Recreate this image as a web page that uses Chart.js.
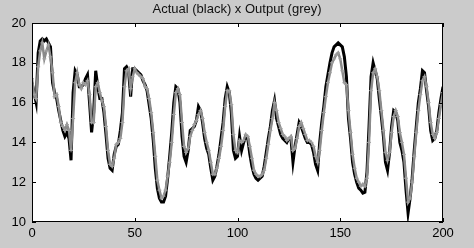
<!DOCTYPE html>
<html>
<head>
<meta charset="utf-8">
<script src="https://cdn.jsdelivr.net/npm/chart.js@4"></script>
<style>
  html, body { margin: 0; padding: 0; background: #cbcbcb; }
  canvas { display: block; }
</style>
</head>
<body>
<canvas id="graph" width="474" height="248"></canvas>
<script>
// valeurs (pas de 1, de 0 à 200)
const actual = [
  17.0, 16.5, 16.0, 18.5, 19.1, 19.2, 19.1, 19.2, 19.0, 18.8,
  17.0, 16.5, 16.2, 15.6, 15.1, 14.6, 14.3, 14.5, 14.2, 13.1,
  16.5, 17.6, 17.4, 16.8, 16.8, 16.9, 17.2, 17.4, 16.0, 14.5,
  15.5, 17.6, 16.8, 16.2, 16.2, 15.5, 14.4, 13.2, 12.7, 12.6,
  13.4, 13.8, 13.9, 14.6, 15.5, 17.7, 17.8, 17.6, 16.3, 17.7,
  17.7, 17.6, 17.5, 17.4, 17.1, 16.9, 16.6, 15.9, 15.2, 14.1,
  12.7, 11.7, 11.2, 11.0, 11.0, 11.3, 12.2, 13.3, 14.5, 16.0,
  16.8, 16.7, 16.0, 14.3, 13.3, 13.0, 13.6, 14.6, 14.7, 14.8,
  15.1, 15.8, 15.6, 15.0, 14.2, 13.7, 13.4, 12.7, 12.1, 12.3,
  12.8, 13.4, 14.2, 15.0, 16.2, 16.8, 16.5, 15.5, 13.6, 13.2,
  13.3, 14.3, 13.6, 14.0, 14.3, 14.2, 13.4, 12.8, 12.4, 12.2,
  12.1, 12.2, 12.3, 12.8, 13.5, 14.2, 14.8, 15.6, 16.1, 15.2,
  14.8, 14.4, 14.2, 14.1, 14.0, 14.2, 14.2, 13.0, 13.8, 14.4,
  15.0, 14.8, 14.5, 14.2, 14.0, 14.0, 13.9, 13.5, 12.9, 12.6,
  14.0, 15.0, 15.8, 16.8, 17.4, 18.0, 18.5, 18.8, 18.9, 19.0,
  18.9, 18.8, 18.3, 17.3, 15.2, 14.2, 13.0, 12.4, 12.0, 11.7,
  11.6, 11.45, 11.5, 12.5, 14.8, 17.3, 18.0, 17.6, 17.2, 16.2,
  15.3, 14.3, 13.0, 12.6, 13.5, 14.8, 15.6, 15.5, 15.1, 14.0,
  13.6, 13.0, 11.6, 10.45, 11.2, 12.2, 13.6, 14.8, 16.0, 16.7,
  17.6, 17.5, 16.6, 15.8, 14.6, 14.1, 14.2, 14.6, 15.5, 16.2,
  16.8
];

const output = [
  17.2, 16.4, 16.2, 17.8, 18.6, 19.0, 18.2, 18.6, 18.9, 18.3,
  17.5, 16.3, 16.4, 15.8, 15.0, 14.8, 14.6, 14.9, 14.6, 13.6,
  15.2, 17.0, 17.5, 16.9, 16.7, 17.0, 16.9, 17.1, 16.4, 15.0,
  15.0, 16.8, 17.0, 16.5, 16.1, 15.8, 14.8, 13.6, 12.9, 12.8,
  13.2, 13.9, 14.0, 14.2, 15.0, 16.8, 17.6, 17.7, 16.7, 17.3,
  17.7, 17.5, 17.4, 17.3, 17.2, 16.8, 16.7, 16.2, 15.5, 14.5,
  13.3, 12.1, 11.6, 11.2, 11.3, 11.6, 12.3, 13.0, 14.0, 15.4,
  16.5, 16.7, 16.4, 15.0, 13.8, 13.5, 13.7, 14.3, 14.6, 14.9,
  15.1, 15.4, 15.6, 15.2, 14.5, 14.0, 13.6, 13.0, 12.4, 12.4,
  12.7, 13.2, 13.8, 14.6, 15.8, 16.6, 16.6, 15.9, 14.4, 13.6,
  13.5, 14.1, 14.0, 14.1, 14.4, 14.3, 13.8, 13.2, 12.6, 12.4,
  12.3, 12.3, 12.4, 12.6, 13.2, 13.9, 14.6, 15.2, 16.0, 15.6,
  15.0, 14.7, 14.4, 14.3, 14.1, 14.2, 14.3, 13.6, 13.7, 14.2,
  14.8, 15.0, 14.7, 14.4, 14.1, 14.1, 14.0, 13.8, 13.3, 13.0,
  13.6, 14.6, 15.5, 16.3, 17.0, 17.5, 18.0, 18.2, 18.4, 18.5,
  18.2, 17.6, 17.0, 16.9, 15.6, 14.5, 13.4, 12.7, 12.2, 12.0,
  11.8, 11.9, 11.8, 12.2, 14.0, 16.6, 17.5, 17.7, 17.3, 16.6,
  15.6, 14.6, 13.5, 13.1, 13.5, 14.5, 15.3, 15.6, 15.3, 14.5,
  14.0, 13.4, 12.2, 11.0, 11.2, 12.0, 13.3, 14.5, 15.6, 16.4,
  17.1, 17.3, 16.8, 16.0, 15.0, 14.4, 14.2, 14.5, 15.2, 15.9,
  16.5
];

const xTicks = [0, 50, 100, 150, 200];
const yTicks = [10, 12, 14, 16, 18, 20];

const toPoints = arr => arr.map((v, i) => ({ x: i, y: v }));

// fond blanc + cadre + graduations vers l'intérieur (style matlab)
const cadre = {
  id: 'cadre',
  beforeDraw(chart) {
    const { ctx, chartArea: a } = chart;
    ctx.save();
    ctx.fillStyle = '#fff';
    ctx.fillRect(a.left, a.top, a.right - a.left, a.bottom - a.top);
    ctx.restore();
  },
  afterDraw(chart) {
    const { ctx, chartArea: a, scales } = chart;
    ctx.save();
    ctx.strokeStyle = '#000';
    ctx.lineWidth = 1;
    ctx.strokeRect(a.left + 0.5, a.top + 0.5, a.right - a.left - 1, a.bottom - a.top - 1);
    ctx.beginPath();
    xTicks.forEach(t => {
      const x = Math.round(scales.x.getPixelForValue(t)) + 0.5;
      ctx.moveTo(x, a.bottom); ctx.lineTo(x, a.bottom - 4);
      ctx.moveTo(x, a.top); ctx.lineTo(x, a.top + 4);
    });
    yTicks.forEach(t => {
      const y = Math.round(scales.y.getPixelForValue(t)) + 0.5;
      ctx.moveTo(a.left, y); ctx.lineTo(a.left + 4, y);
      ctx.moveTo(a.right, y); ctx.lineTo(a.right - 4, y);
    });
    ctx.stroke();
    ctx.restore();
  }
};

const police = { family: '"Liberation Sans", Arial, sans-serif', size: 13 };

new Chart(document.getElementById('graph').getContext('2d'), {
  type: 'line',
  data: {
    datasets: [
      {
        label: 'Actual',
        data: toPoints(actual),
        borderColor: '#000',
        borderWidth: 3,
        pointRadius: 0,
        tension: 0,
        order: 1
      },
      {
        label: 'Output',
        data: toPoints(output),
        borderColor: '#8a8a8a',
        borderWidth: 2.5,
        pointStyle: 'cross',
        pointRadius: 2,
        pointBorderColor: '#a0a0a0',
        pointBorderWidth: 1,
        tension: 0,
        order: 0
      }
    ]
  },
  options: {
    responsive: false,
    animation: false,
    layout: { padding: 0 },
    plugins: {
      legend: { display: false },
      tooltip: { enabled: false },
      title: {
        display: true,
        text: 'Actual (black) x Output (grey)',
        color: '#111',
        font: { ...police, weight: 'normal' },
        padding: { top: 2, bottom: 5.4 }
      }
    },
    scales: {
      x: {
        type: 'linear',
        min: 0,
        max: 200,
        afterFit: s => { s.height = 26; },
        afterBuildTicks: s => { s.ticks = xTicks.map(v => ({ value: v })); },
        grid: { display: false, drawTicks: false },
        border: { display: false },
        ticks: { color: '#000', font: police, padding: 4, maxRotation: 0 }
      },
      y: {
        min: 10,
        max: 20,
        afterFit: s => { s.width = 32; },
        afterBuildTicks: s => { s.ticks = yTicks.map(v => ({ value: v })); },
        grid: { display: false, drawTicks: false },
        border: { display: false },
        ticks: { color: '#000', font: police, padding: 6 }
      },
      // axe vide à droite pour garder la marge
      y2: {
        position: 'right',
        min: 10,
        max: 20,
        afterFit: s => { s.width = 31; },
        grid: { display: false, drawTicks: false },
        border: { display: false },
        ticks: { display: false }
      }
    }
  },
  plugins: [cadre]
});
</script>
</body>
</html>
